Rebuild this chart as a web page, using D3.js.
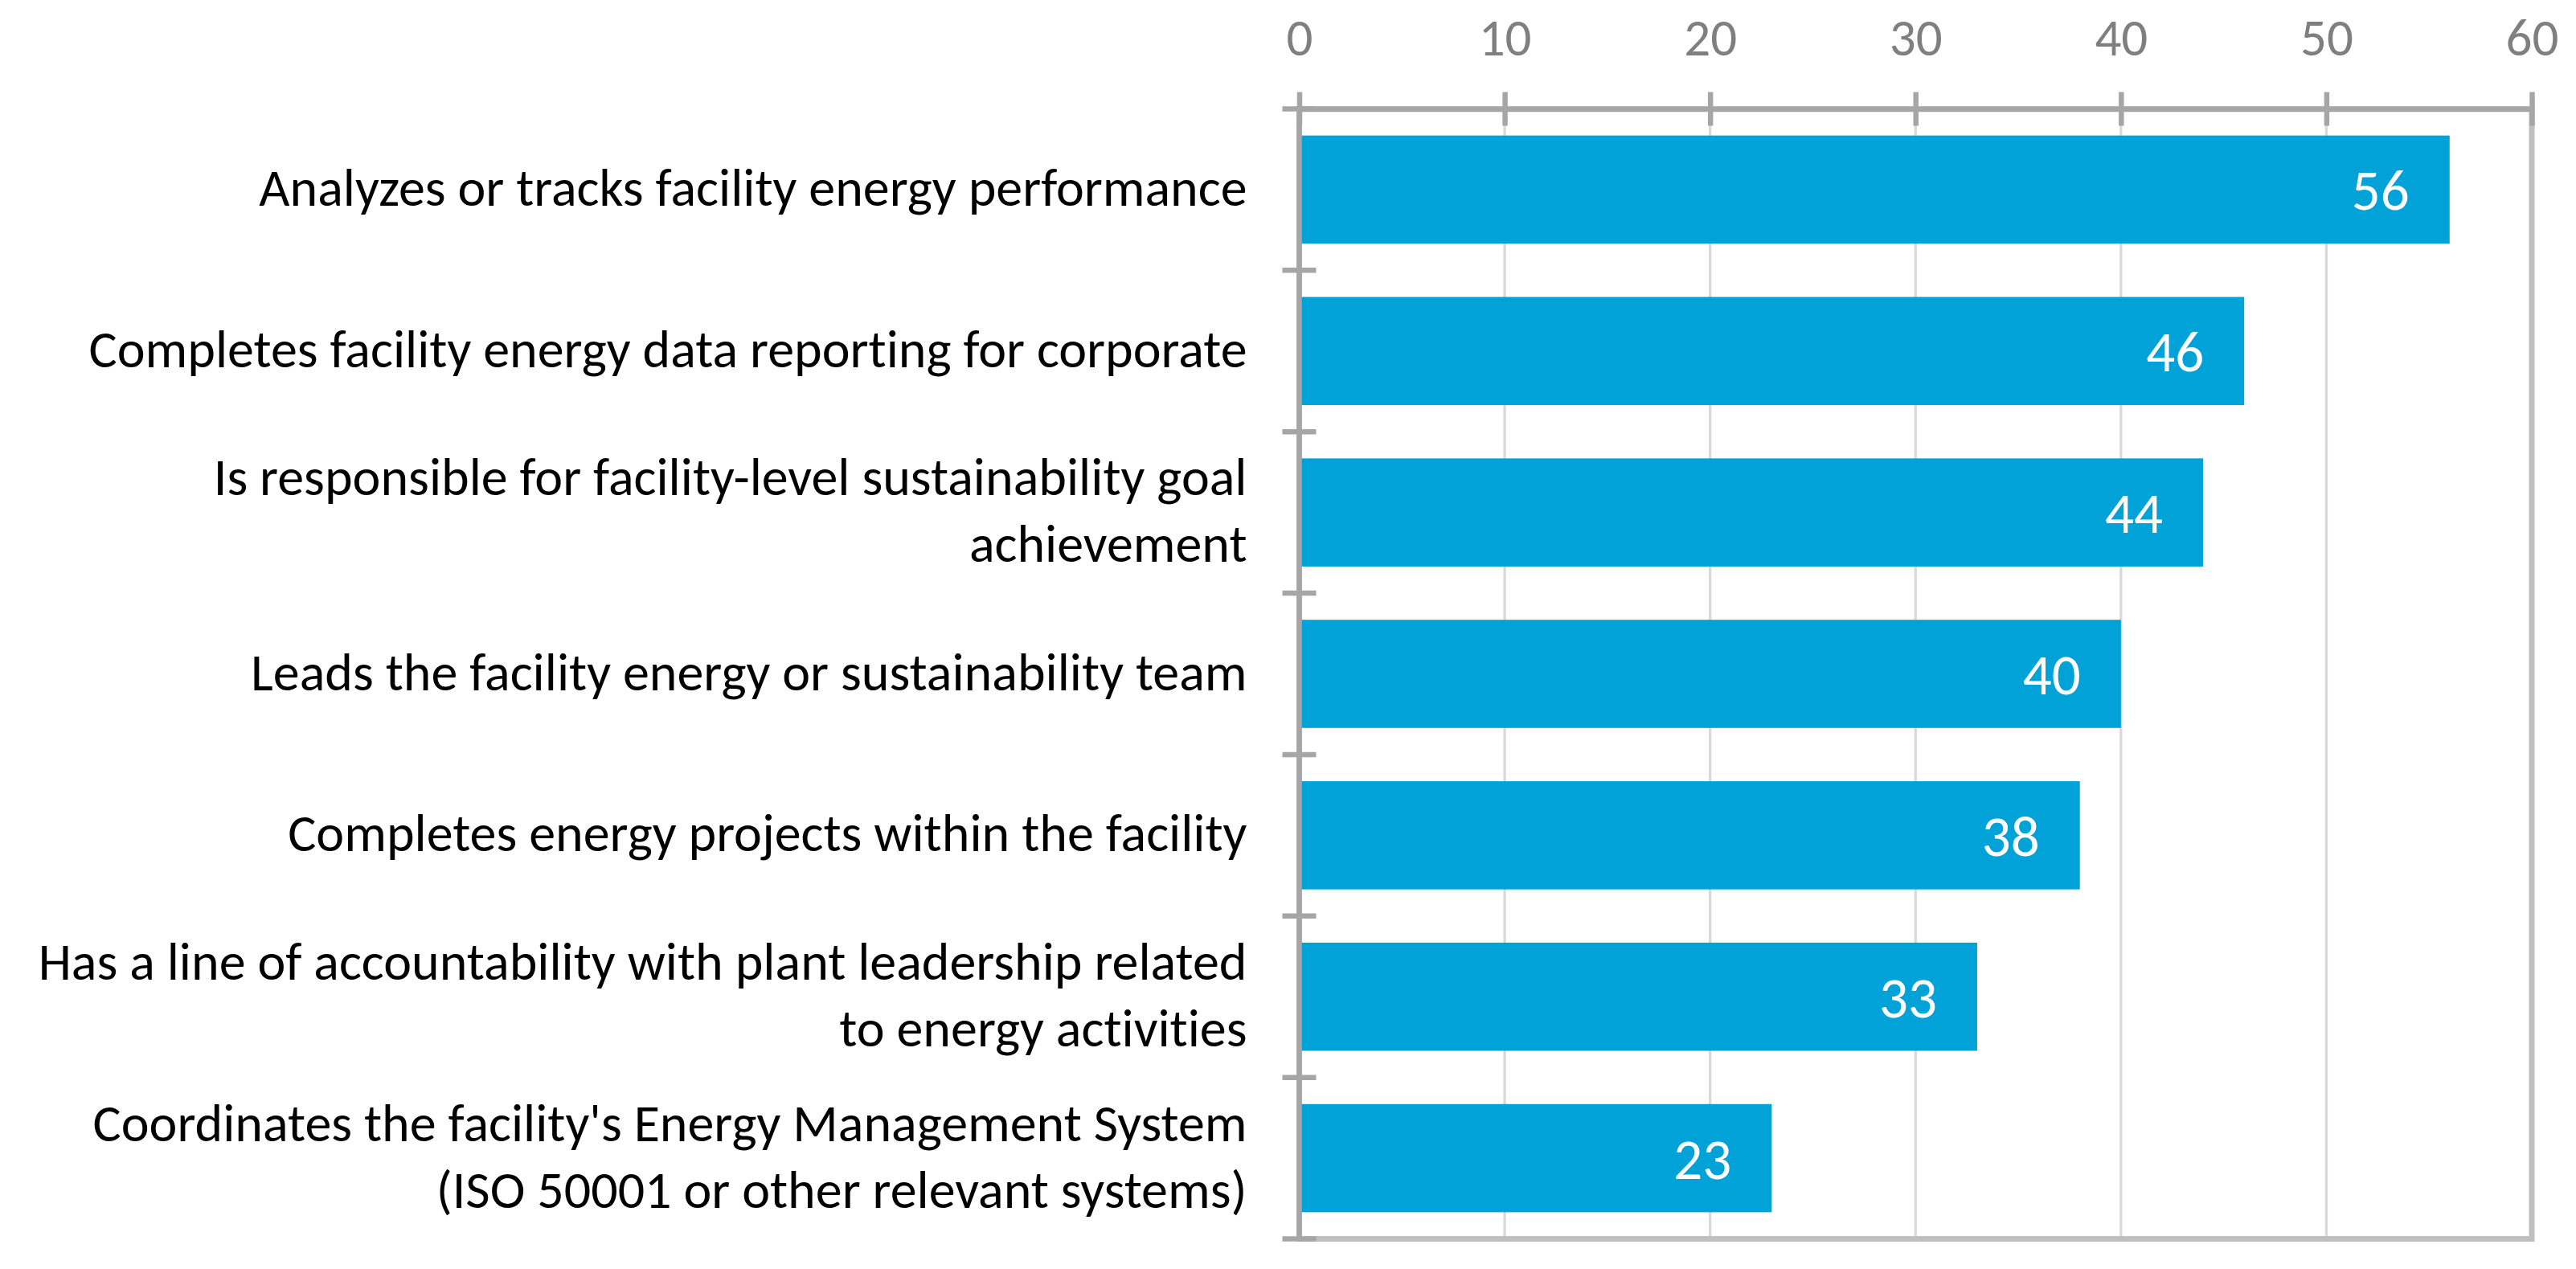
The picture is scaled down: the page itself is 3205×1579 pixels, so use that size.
<!DOCTYPE html>
<html>
<head>
<meta charset="utf-8">
<script src="https://cdn.jsdelivr.net/npm/d3@7"></script>
<style>
  body { margin: 0; background: #fff; }
  svg { display: block; }
  text { font-family: Calibri, Carlito, Lato, sans-serif; font-variant-ligatures: none; }
</style>
</head>
<body>
<svg id="chart" width="3205" height="1579"></svg>
<script>
// chart data, top to bottom
var categories = [
  "Analyzes or tracks facility energy performance",
  "Completes facility energy data reporting for corporate",
  "Is responsible for facility-level sustainability goal\nachievement",
  "Leads the facility energy or sustainability team",
  "Completes energy projects within the facility",
  "Has a line of accountability with plant leadership related\nto energy activities",
  "Coordinates the facility's Energy Management System\n(ISO 50001 or other relevant systems)"
];
var values = [56, 46, 44, 40, 38, 33, 23];
var xTicks = [0, 10, 20, 30, 40, 50, 60];

var svg = d3.select('#chart');

var x = d3.scaleLinear()
  .domain([0, 60])
  .range([1616.5, 3150]);

var y = d3.scaleBand()
  .domain(categories)
  .range([135.5, 1541.5])
  .paddingInner(0.33)
  .paddingOuter(0.165);

var plotTop = y.range()[0], plotBottom = y.range()[1];
var plotLeft = x.range()[0], plotRight = x.range()[1];

// gridlines
svg.append('g')
  .selectAll('line')
  .data(xTicks.filter(function(t) { return t > 0 && t < 60; }))
  .enter().append('line')
    .attr('x1', function(d) { return x(d); })
    .attr('x2', function(d) { return x(d); })
    .attr('y1', plotTop)
    .attr('y2', plotBottom)
    .attr('stroke', '#d9d9d9')
    .attr('stroke-width', 3.3);

// plot area border (only bottom and right show)
svg.append('rect')
  .attr('x', plotLeft)
  .attr('y', plotTop)
  .attr('width', plotRight - plotLeft)
  .attr('height', plotBottom - plotTop)
  .attr('fill', 'none')
  .attr('stroke', '#bfbfbf')
  .attr('stroke-width', 7);

// bars
svg.append('g')
  .selectAll('rect')
  .data(values)
  .enter().append('rect')
    .attr('x', x(0))
    .attr('y', function(d, i) { return y(categories[i]); })
    .attr('width', function(d) { return x(d) - x(0); })
    .attr('height', y.bandwidth())
    .attr('fill', '#00a2d8');

// value labels, inside end
svg.append('g')
  .selectAll('text')
  .data(values)
  .enter().append('text')
    .attr('x', function(d) { return x(d) - 50; })
    .attr('y', function(d, i) { return y(categories[i]) + y.bandwidth() / 2 + 25.5; })
    .attr('text-anchor', 'end')
    .attr('fill', '#fff')
    .style('font-size', '71px')
    .text(function(d) { return d; });

// value axis on top, ticks cross the line
var xAxis = svg.append('g')
  .attr('transform', 'translate(0,' + plotTop + ')')
  .call(d3.axisTop(x).tickValues(xTicks).tickSize(21).tickSizeOuter(0).tickPadding(46));

xAxis.select('.domain')
  .attr('stroke', '#a6a6a6')
  .attr('stroke-width', 6.5);
xAxis.selectAll('.tick line')
  .attr('y1', 21)
  .attr('stroke', '#a6a6a6')
  .attr('stroke-width', 6.5);
xAxis.selectAll('.tick text')
  .attr('fill', '#7f7f7f')
  .style('font-size', '65px')
  .style('font-family', 'Calibri, Carlito, Lato, sans-serif');

// category axis: line plus ticks between categories
var catAxis = svg.append('g');
catAxis.append('line')
  .attr('x1', plotLeft).attr('x2', plotLeft)
  .attr('y1', plotTop).attr('y2', plotBottom)
  .attr('stroke', '#a6a6a6')
  .attr('stroke-width', 6.5);
catAxis.selectAll('line.tick')
  .data(d3.range(categories.length + 1))
  .enter().append('line')
    .attr('class', 'tick')
    .attr('x1', plotLeft - 21)
    .attr('x2', plotLeft + 21)
    .attr('y1', function(i) { return plotTop + i * y.step(); })
    .attr('y2', function(i) { return plotTop + i * y.step(); })
    .attr('stroke', '#a6a6a6')
    .attr('stroke-width', 6.5);

// category labels, right aligned, wrapped
var lineHeight = 83;
var labels = svg.append('g')
  .selectAll('text')
  .data(categories)
  .enter().append('text')
    .attr('text-anchor', 'end')
    .attr('fill', '#000')
    .style('font-size', '66px');

labels.each(function(c) {
  var lines = c.split('\n');
  var mid = y(c) + y.bandwidth() / 2 + 20;
  var node = d3.select(this);
  lines.forEach(function(l, i) {
    node.append('tspan')
      .attr('x', plotLeft - 65)
      .attr('y', mid + (i - (lines.length - 1) / 2) * lineHeight)
      .text(l);
  });
});
</script>
</body>
</html>
